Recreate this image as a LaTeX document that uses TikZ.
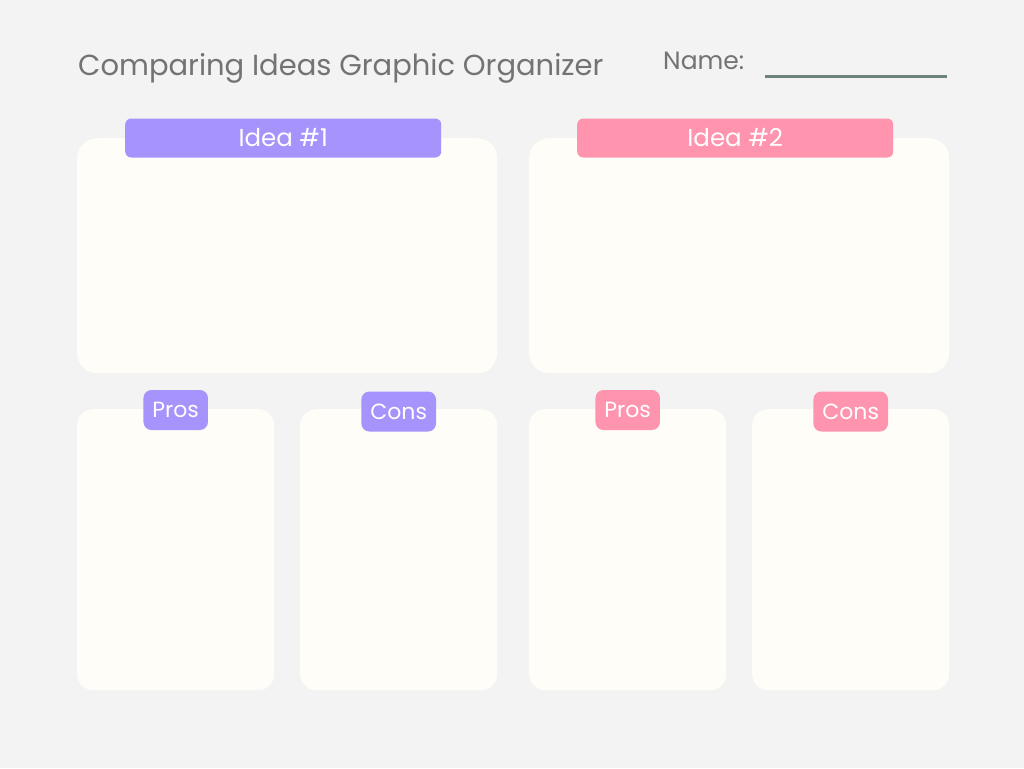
\documentclass[tikz,border=0pt]{standalone}
\usepackage{fontspec}
\setmainfont{Poppins}
\usetikzlibrary{positioning}
\definecolor{pagebg}{HTML}{F3F3F3}
\definecolor{cardfill}{HTML}{FEFDF8}
\definecolor{ideaone}{HTML}{A693FC}
\definecolor{ideatwo}{HTML}{FF94AE}
\definecolor{titlegray}{HTML}{737373}
\definecolor{linegray}{HTML}{6E827E}
\tikzset{
  bigcard/.style={fill=cardfill, rounded corners=20pt, minimum width=420pt, minimum height=235pt, anchor=north west, inner sep=0pt},
  smallcard/.style={fill=cardfill, rounded corners=16pt, minimum width=197pt, minimum height=281pt, anchor=north west, inner sep=0pt},
  ideatab/.style={rounded corners=6pt, minimum width=316pt, minimum height=39pt, inner sep=0pt, text=white, font=\fontsize{24.5}{28}\selectfont},
  smalltab/.style={rounded corners=8pt, minimum height=40pt, inner xsep=9pt, inner ysep=0pt, text=white, font=\fontsize{22}{26}\selectfont}
}

\begin{document}
\begin{tikzpicture}[x=1pt, y=-1pt]
		%%%%% PAGE %%%%%
		\fill[pagebg] (0, 0) rectangle (1024, 768);
		\useasboundingbox (0, 0) rectangle (1024, 768);
		
		\node[anchor=base west, inner sep=0pt, text=titlegray, font=\fontsize{29}{33}\selectfont] (title) at (78, 75) {Comparing Ideas Graphic Organizer};
		\node[anchor=base west, inner sep=0pt, text=titlegray, font=\fontsize{25}{29}\selectfont] (name) at (663, 70) {Name:};
		\coordinate (lineL) at (765, 76);
		\coordinate (lineR) at (947, 76);
		\draw[line width=3pt, color=linegray] (lineL) -- (lineR);
		
		%%%%% IDEAS %%%%%
		\node[bigcard] (cardA) at (77, 138) {};
		\node[bigcard] (cardB) at (529, 138) {};
		\node[ideatab, fill=ideaone] (tabA) at ([xshift=-4pt]cardA.north) {Idea \#1};
		\node[ideatab, fill=ideatwo] (tabB) at ([xshift=-4pt]cardB.north) {Idea \#2};
		
		%%%%% PROS AND CONS %%%%%
		\node[smallcard] (prosA) at (77, 409) {};
		\node[smallcard] (consA) at (300, 409) {};
		\node[smallcard] (prosB) at (529, 409) {};
		\node[smallcard] (consB) at (752, 409) {};
		
		\node[smalltab, fill=ideaone] (prosAtab) at ([yshift=-1pt]prosA.north) {Pros};
		\node[smalltab, fill=ideaone] (consAtab) at ([yshift=-2.5pt]consA.north) {Cons};
		\node[smalltab, fill=ideatwo] (prosBtab) at ([yshift=-1pt]prosB.north) {Pros};
		\node[smalltab, fill=ideatwo] (consBtab) at ([yshift=-2.5pt]consB.north) {Cons};
		
		%%%%% END %%%%%
	\end{tikzpicture}
\end{document}
